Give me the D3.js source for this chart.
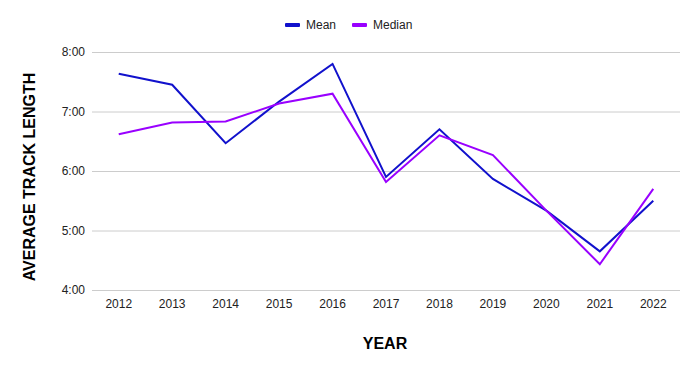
<!DOCTYPE html>
<html>
<head>
<meta charset="utf-8">
<script src="https://cdn.jsdelivr.net/npm/d3@7"></script>
<style>
  body { margin: 0; background: #fff; }
  text { font-family: "Liberation Sans", Arial, sans-serif; }
</style>
</head>
<body>
<div id="chart"></div>
<script>
// data, values in seconds
var years = ["2012", "2013", "2014", "2015", "2016", "2017", "2018", "2019", "2020", "2021", "2022"];
var meanSecs = [458, 447, 388, 430, 468, 354, 402, 352, 320, 279, 330];
var medianSecs = [397, 409, 410, 428, 438, 349, 396, 376, 320, 266, 342];
var yTicks = [240, 300, 360, 420, 480];

var svgWidth = 699;
var svgHeight = 372;

var margin = { top: 52, right: 19, bottom: 82, left: 92 };
var width = svgWidth - margin.left - margin.right;
var height = svgHeight - margin.top - margin.bottom;

var svg = d3.select("#chart")
  .append("svg")
  .attr("width", svgWidth)
  .attr("height", svgHeight);

var chartGroup = svg.append("g")
  .attr("transform", `translate(${margin.left}, ${margin.top})`);

var xScale = d3.scaleBand().domain(years).range([0, width]);
var yScale = d3.scaleLinear().domain([240, 480]).range([height, 0]);

function fmt(s) {
  var m = Math.floor(s / 60);
  var r = s % 60;
  return m + ":" + (r < 10 ? "0" : "") + r;
}

// gridlines + y labels
var leftAxis = d3.axisLeft(yScale).tickValues(yTicks).tickSize(-width).tickFormat(fmt);
var yAxisG = chartGroup.append("g").call(leftAxis);
yAxisG.select(".domain").remove();
yAxisG.selectAll(".tick line").attr("stroke", "#cccccc");
yAxisG.selectAll(".tick text")
  .attr("x", -7)
  .attr("fill", "#222")
  .style("font-size", "12px");

// x labels
var bottomAxis = d3.axisBottom(xScale).tickSize(0);
var xAxisG = chartGroup.append("g")
  .attr("transform", `translate(0, ${height})`)
  .call(bottomAxis);
xAxisG.select(".domain").remove();
xAxisG.selectAll(".tick text")
  .attr("y", 9)
  .attr("fill", "#222")
  .style("font-size", "12px");

var series = [
  { name: "Mean", values: meanSecs, color: "#1111cc" },
  { name: "Median", values: medianSecs, color: "#9900ff" }
];

var line = d3.line()
  .x((d, i) => xScale(years[i]) + xScale.bandwidth() / 2)
  .y(d => yScale(d));

series.forEach(function(s) {
  chartGroup.append("path")
    .datum(s.values)
    .attr("fill", "none")
    .attr("stroke", s.color)
    .attr("stroke-width", 2)
    .attr("stroke-linejoin", "miter")
    .attr("d", line);
});

// legend
var legendX = [285, 352];
series.forEach(function(s, i) {
  var g = svg.append("g").attr("transform", `translate(${legendX[i]}, 25)`);
  g.append("rect")
    .attr("x", 0).attr("y", -2)
    .attr("width", 15).attr("height", 4)
    .attr("rx", 1)
    .attr("fill", s.color);
  g.append("text")
    .attr("x", 21).attr("y", 4)
    .attr("fill", "#222")
    .style("font-size", "12px")
    .text(s.name);
});

// axis titles
svg.append("text")
  .attr("transform", "translate(35, 177) rotate(-90)")
  .attr("text-anchor", "middle")
  .attr("fill", "#000")
  .style("font-size", "16px")
  .style("font-weight", "bold")
  .text("AVERAGE TRACK LENGTH");

svg.append("text")
  .attr("x", 385)
  .attr("y", 349)
  .attr("text-anchor", "middle")
  .attr("fill", "#000")
  .style("font-size", "16px")
  .style("font-weight", "bold")
  .text("YEAR");
</script>
</body>
</html>
